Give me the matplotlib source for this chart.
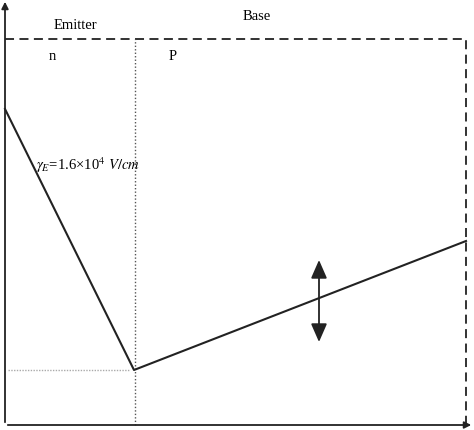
import matplotlib
matplotlib.use("Agg")
import matplotlib.pyplot as plt

plt.rcParams['font.family'] = ['Liberation Serif', 'DejaVu Serif']
plt.rcParams['mathtext.fontset'] = 'stix'

# field profile (arbitrary units, origin at the axes corner)
profile_x = [0, 129, 461]
profile_y = [316, 55, 184]

junction_x = 130      # emitter/base boundary
box_top = 386         # top of dashed base box
box_right = 461
axis_x_max = 469
axis_y_max = 426

arrow_x = 314
arrow_y = [83, 165]

fig = plt.figure(figsize=(4.74, 4.31), dpi=100)
ax = fig.add_axes([0, 0, 1, 1])
ax.set_xlim(-5, 469)
ax.set_ylim(-5, 426)
ax.axis('off')

# axes arrows
ax.annotate('', xy=(0, axis_y_max), xytext=(0, 0),
            arrowprops=dict(arrowstyle='-|>', color='#222222', lw=1.3, mutation_scale=10))
ax.annotate('', xy=(axis_x_max, 0), xytext=(0, 0),
            arrowprops=dict(arrowstyle='-|>', color='#222222', lw=1.3, mutation_scale=10))

# dashed base box
ax.plot([0, box_right, box_right], [box_top, box_top, 0], ls=(0, (5, 3)), color='#222222', lw=1.3)

# dotted junction line
ax.plot([junction_x, junction_x], [0, box_top], ls=(0, (1, 1.5)), color='#555555', lw=1.0)

# gray dotted level line
ax.plot([3, 125], [profile_y[1], profile_y[1]], ls=(0, (1, 1)), color='#aaaaaa', lw=1.0)

# field profile
ax.plot(profile_x, profile_y, color='#222222', lw=1.5)

# double-headed arrow
ax.annotate('', xy=(arrow_x, arrow_y[1]), xytext=(arrow_x, arrow_y[0]),
            arrowprops=dict(arrowstyle='<|-|>,head_length=0.8,head_width=0.35',
                            color='#222222', lw=1.3, mutation_scale=14,
                            shrinkA=0, shrinkB=0))

ax.text(70, 401, 'Emitter', ha='center', va='center', fontsize=10.5)
ax.text(252, 410, 'Base', ha='center', va='center', fontsize=10.5)
ax.text(47, 369, 'n', ha='center', va='center', fontsize=10.5)
ax.text(168, 369, 'P', ha='center', va='center', fontsize=10.5)
ax.text(83, 261, r'$\gamma_E$=1.6×10$^4$ $V/cm$', ha='center', va='center', fontsize=10.5)

fig.savefig('out.png', dpi=100)
